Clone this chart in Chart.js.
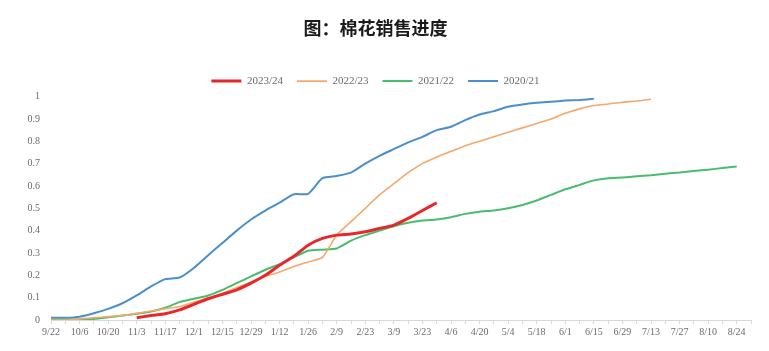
<!DOCTYPE html>
<html>
<head>
<meta charset="utf-8">
<script src="https://cdn.jsdelivr.net/npm/chart.js@4/dist/chart.umd.min.js"></script>
<style>
  html, body { margin: 0; padding: 0; background: #fff; }
  #wrap { width: 769px; height: 351px; }
</style>
</head>
<body>
<div id="wrap"><canvas id="sales-chart" width="769" height="351"></canvas></div>
<script>
// Weekly categories, 9/22 .. 8/31
const weeks = ['9/22', '9/29', '10/6', '10/13', '10/20', '10/27', '11/3', '11/10', '11/17', '11/24',
    '12/1', '12/8', '12/15', '12/22', '12/29', '1/5', '1/12', '1/19', '1/26', '2/2',
    '2/9', '2/16', '2/23', '3/2', '3/9', '3/16', '3/23', '3/30', '4/6', '4/13',
    '4/20', '4/27', '5/4', '5/11', '5/18', '5/25', '6/1', '6/8', '6/15', '6/22',
    '6/29', '7/6', '7/13', '7/20', '7/27', '8/3', '8/10', '8/17', '8/24', '8/31'];

// Labels shown on the x axis (every other week)
const tickLabels = ['9/22', '10/6', '10/20', '11/3', '11/17', '12/1', '12/15', '12/29', '1/12', '1/26',
    '2/9', '2/23', '3/9', '3/23', '4/6', '4/20', '5/4', '5/18', '6/1', '6/15',
    '6/29', '7/13', '7/27', '8/10', '8/24'];

const seriesNames = ['2023/24', '2022/23', '2021/22', '2020/21'];

// Sales progress (share of crop sold)
const sales2324 = [null, null, null, null, null, null,
    0.01, 0.02, 0.028, 0.045, 0.07, 0.095, 0.115, 0.135, 0.165, 0.20,
    0.245, 0.285, 0.335, 0.365, 0.38, 0.385, 0.395, 0.41, 0.425, 0.455,
    0.49, 0.525];

const sales2223 = [0.0, 0.0, 0.005, 0.01, 0.015, 0.02, 0.03, 0.04, 0.05, 0.06,
    0.08, 0.10, 0.12, 0.145, 0.17, 0.195, 0.215, 0.24, 0.26, 0.28,
    0.38, 0.44, 0.50, 0.56, 0.61, 0.66, 0.70, 0.73, 0.755, 0.78,
    0.80, 0.82, 0.84, 0.86, 0.88, 0.90, 0.925, 0.945, 0.96, 0.967,
    0.975, 0.98, 0.988];

const sales2122 = [0.002, 0.002, 0.003, 0.005, 0.012, 0.02, 0.028, 0.038, 0.055, 0.08,
    0.095, 0.11, 0.135, 0.165, 0.195, 0.225, 0.25, 0.28, 0.31, 0.315,
    0.32, 0.355, 0.38, 0.40, 0.42, 0.435, 0.445, 0.45, 0.46, 0.475,
    0.485, 0.49, 0.50, 0.515, 0.535, 0.56, 0.585, 0.605, 0.625, 0.635,
    0.638, 0.643, 0.648, 0.655, 0.66, 0.667, 0.673, 0.68, 0.687];

const sales2021 = [0.01, 0.01, 0.015, 0.03, 0.05, 0.075, 0.11, 0.15, 0.183, 0.19,
    0.233, 0.29, 0.345, 0.40, 0.45, 0.49, 0.525, 0.563, 0.565, 0.635,
    0.645, 0.66, 0.70, 0.735, 0.765, 0.795, 0.82, 0.85, 0.865, 0.895,
    0.92, 0.935, 0.955, 0.965, 0.972, 0.977, 0.982, 0.985, 0.99];

const yTicks = [0, 0.1, 0.2, 0.3, 0.4, 0.5, 0.6, 0.7, 0.8, 0.9, 1];

document.addEventListener('DOMContentLoaded', function() {
    const ctx = document.getElementById('sales-chart');
    const textGray = '#6b6b6b';
    const serif = '"Liberation Serif", "DejaVu Serif", serif';

    function lineSet(label, data, color, width) {
        return {
            label: label,
            data: data,
            borderColor: color,
            backgroundColor: color,
            borderWidth: width,
            pointRadius: 0,
            tension: 0.2,
            fill: false
        };
    }

    new Chart(ctx, {
        type: 'line',
        data: {
            labels: weeks,
            datasets: [
                lineSet(seriesNames[0], sales2324, '#e8272b', 3),
                lineSet(seriesNames[1], sales2223, '#f4a86e', 1.6),
                lineSet(seriesNames[2], sales2122, '#48bd6f', 2),
                lineSet(seriesNames[3], sales2021, '#4a8fcc', 2)
            ]
        },
        options: {
            responsive: false,
            animation: false,
            layout: {
                padding: { left: 0, right: 18, top: 0, bottom: 0 }
            },
            plugins: {
                title: {
                    display: true,
                    text: '图：棉花销售进度',
                    color: '#1a1a1a',
                    font: { family: '"Noto Sans CJK SC", sans-serif', size: 18, weight: 'bold' },
                    padding: { top: 17, bottom: 23 }
                },
                legend: {
                    display: true,
                    labels: {
                        usePointStyle: true,
                        pointStyleWidth: 30,
                        pointStyle: 'line',
                        color: textGray,
                        padding: 14,
                        font: { family: serif, size: 11 }
                    }
                },
                tooltip: { enabled: false }
            },
            scales: {
                x: {
                    type: 'category',
                    offset: false,
                    grid: {
                        display: true,
                        drawOnChartArea: false,
                        tickLength: 4,
                        color: '#d9d9d9'
                    },
                    border: { display: true, color: '#d9d9d9' },
                    ticks: {
                        autoSkip: false,
                        maxRotation: 0,
                        minRotation: 0,
                        padding: 2,
                        color: textGray,
                        font: { family: serif, size: 10 },
                        callback: function(value, index) {
                            const w = weeks[index];
                            return tickLabels.includes(w) ? w : '';
                        }
                    },
                    afterFit: function(scale) { scale.height = 31; }
                },
                y: {
                    min: 0,
                    max: 1,
                    grid: { display: false },
                    border: { display: false },
                    afterBuildTicks: function(scale) {
                        scale.ticks = yTicks.map(v => ({ value: v }));
                    },
                    ticks: {
                        color: textGray,
                        padding: 3,
                        font: { family: serif, size: 10 },
                        callback: function(value) { return String(value); }
                    },
                    afterFit: function(scale) { scale.width = 51; }
                }
            }
        }
    });
});
</script>
</body>
</html>
